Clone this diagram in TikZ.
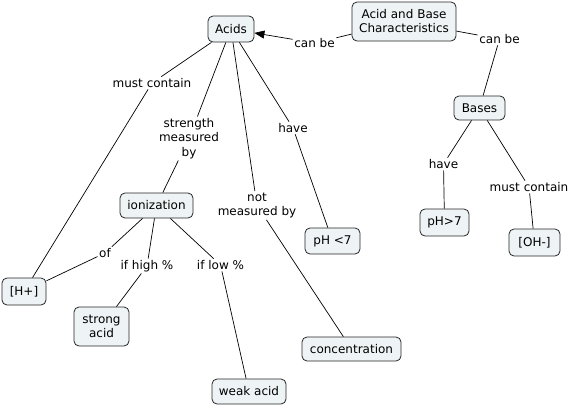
\documentclass[tikz,border=0pt]{standalone}
\usepackage{fontspec}
\setmainfont{DejaVu Sans}
\usetikzlibrary{arrows.meta}
\definecolor{cfill}{RGB}{238,243,245}
\begin{document}
\begin{tikzpicture}[x=1pt,y=-1pt,
  concept/.style={draw=black!85, line width=0.8pt, fill=cfill, rounded corners=5pt, align=center, inner sep=1pt, font=\fontsize{12}{14}\selectfont},
  lbl/.style={align=center, inner sep=1.5pt, font=\fontsize{12}{14.5}\selectfont},
  conn/.style={draw=black, line width=0.7pt}]
\useasboundingbox (0,0) rectangle (571,407);
% concepts
\node[concept, minimum width=46pt, minimum height=26pt] (acids) at (231,29) {Acids};
\node[concept, minimum width=104pt, minimum height=39pt] (ab) at (404,21.5) {Acid and Base\\Characteristics};
\node[concept, minimum width=51pt, minimum height=24pt] (bases) at (479.5,108) {Bases};
\node[concept, minimum width=73pt, minimum height=25pt] (ion) at (156.5,205.5) {ionization};
\node[concept, minimum width=44pt, minimum height=27pt] (hplus) at (24,291.5) {[H+]};
\node[concept, minimum width=55pt, minimum height=39pt] (strong) at (101.5,326.5) {strong\\acid};
\node[concept, minimum width=74pt, minimum height=25pt] (weak) at (249,391.5) {weak acid};
\node[concept, minimum width=55pt, minimum height=26pt] (phlt) at (332.5,241) {pH <7};
\node[concept, minimum width=49pt, minimum height=27pt] (phgt) at (444.5,222.5) {pH>7};
\node[concept, minimum width=51pt, minimum height=27pt] (oh) at (534.5,242.5) {[OH-]};
\node[concept, minimum width=99pt, minimum height=24pt] (conc) at (351.5,349) {concentration};
% linking phrases
\node[lbl] (cb1) at (314.5,43) {can be};
\node[lbl] (cb2) at (499.5,39) {can be};
\node[lbl] (mc1) at (152,83) {must contain};
\node[lbl] (smb) at (189,138.5) {strength\\measured\\by};
\node[lbl] (hv1) at (293,128) {have};
\node[lbl] (nmb) at (257,205.5) {not\\measured by};
\node[lbl] (hv2) at (443.5,164) {have};
\node[lbl] (mc2) at (529,187) {must contain};
\node[lbl] (of) at (105,253) {of};
\node[lbl] (hi) at (147,266) {if high \%};
\node[lbl] (lo) at (220.5,265) {if low \%};
% connectors
\draw[conn] (ab) -- (cb1);
\draw[conn, -{Triangle[length=10pt,width=8pt]}] (cb1) -- (acids);
\draw[conn] (ab) -- (cb2) -- (bases);
\draw[conn] (acids) -- (mc1) -- (hplus);
\draw[conn] (acids) -- (smb) -- (ion);
\draw[conn] (acids) -- (nmb) -- (conc);
\draw[conn] (acids) -- (hv1) -- (phlt);
\draw[conn] (bases) -- (hv2) -- (phgt);
\draw[conn] (bases) -- (mc2) -- (oh);
\draw[conn] (ion) -- (of) -- (hplus);
\draw[conn] (ion) -- (hi) -- (strong);
\draw[conn] (ion) -- (lo) -- (weak);
\end{tikzpicture}
\end{document}
